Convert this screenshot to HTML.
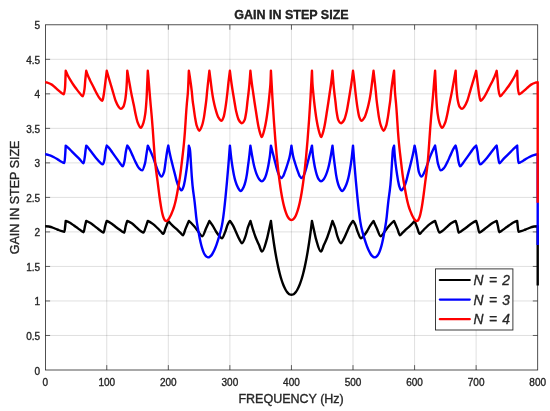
<!DOCTYPE html>
<html><head><meta charset="utf-8"><style>
html,body{margin:0;padding:0;background:#fff;width:550px;height:411px;overflow:hidden}
svg{display:block}
text{font-family:"Liberation Sans",Arial,Helvetica,sans-serif;fill:#262626;stroke:#262626;stroke-width:0.35px}
</style></head><body>
<svg width="550" height="411" viewBox="0 0 550 411">
<rect width="550" height="411" fill="#fff"/>
<path d="M106.76,24.8V370.0M168.33,24.8V370.0M229.89,24.8V370.0M291.45,24.8V370.0M353.01,24.8V370.0M414.58,24.8V370.0M476.14,24.8V370.0" stroke="#262626" stroke-opacity="0.14" stroke-width="1" fill="none"/>
<path d="M45.2,335.48H537.7M45.2,300.96H537.7M45.2,266.44H537.7M45.2,231.92H537.7M45.2,197.40H537.7M45.2,162.88H537.7M45.2,128.36H537.7M45.2,93.84H537.7M45.2,59.32H537.7" stroke="#262626" stroke-opacity="0.14" stroke-width="1" fill="none"/>
<path d="M106.76,370.0v-4.9M106.76,24.8v4.9M168.33,370.0v-4.9M168.33,24.8v4.9M229.89,370.0v-4.9M229.89,24.8v4.9M291.45,370.0v-4.9M291.45,24.8v4.9M353.01,370.0v-4.9M353.01,24.8v4.9M414.58,370.0v-4.9M414.58,24.8v4.9M476.14,370.0v-4.9M476.14,24.8v4.9M45.2,335.48h4.9M537.7,335.48h-4.9M45.2,300.96h4.9M537.7,300.96h-4.9M45.2,266.44h4.9M537.7,266.44h-4.9M45.2,231.92h4.9M537.7,231.92h-4.9M45.2,197.40h4.9M537.7,197.40h-4.9M45.2,162.88h4.9M537.7,162.88h-4.9M45.2,128.36h4.9M537.7,128.36h-4.9M45.2,93.84h4.9M537.7,93.84h-4.9M45.2,59.32h4.9M537.7,59.32h-4.9" stroke="#262626" stroke-width="0.7" fill="none"/>
<rect x="45.5" y="24.8" width="492.2" height="345.2" fill="none" stroke="#262626" stroke-width="0.8"/>
<g font-size="10.0" text-anchor="middle"><text x="45.20" y="386.0">0</text><text x="106.76" y="386.0">100</text><text x="168.33" y="386.0">200</text><text x="229.89" y="386.0">300</text><text x="291.45" y="386.0">400</text><text x="353.01" y="386.0">500</text><text x="414.58" y="386.0">600</text><text x="476.14" y="386.0">700</text><text x="537.70" y="386.0">800</text></g>
<g font-size="10.0" text-anchor="end"><text x="40.1" y="374.50">0</text><text x="40.1" y="339.98">0.5</text><text x="40.1" y="305.46">1</text><text x="40.1" y="270.94">1.5</text><text x="40.1" y="236.42">2</text><text x="40.1" y="201.90">2.5</text><text x="40.1" y="167.38">3</text><text x="40.1" y="132.86">3.5</text><text x="40.1" y="98.34">4</text><text x="40.1" y="63.82">4.5</text><text x="40.1" y="29.30">5</text></g>
<text x="291.45" y="18.7" font-size="12.5" font-weight="bold" text-anchor="middle" fill="#000" style="stroke:#000;stroke-width:0.3px">GAIN IN STEP SIZE</text>
<text x="291.1" y="402.7" font-size="12.5" text-anchor="middle">FREQUENCY (Hz)</text>
<text transform="translate(19,197.4) rotate(-90)" font-size="12.5" text-anchor="middle">GAIN IN STEP SIZE</text>
<g fill="none" stroke-width="2.4" stroke-linejoin="round" stroke-linecap="butt">
<path d="M45.2,226.2C46.43,226.2 47.67,226.34 48.9,226.5C49.7,226.6 50.5,226.86 51.3,227.1C52.1,227.34 52.9,227.69 53.7,228C54.53,228.32 55.37,228.66 56.2,229C57,229.33 57.8,229.7 58.6,230C59.4,230.3 60.2,230.56 61,230.8C62.13,231.14 63.27,231.7 64.4,231.7C64.67,231.7 64.93,228.22 65.2,226C65.37,224.55 65.55,222.78 65.72,220.9C67.15,221.34 68.57,222.02 70,222.8C71.33,223.53 72.67,224.67 74,225.6C75.33,226.53 76.67,227.43 78,228.4C79.07,229.17 80.13,230.1 81.2,230.8C82,231.32 82.8,232.2 83.6,232.2C84.07,232.2 84.53,227.99 85,226C85.41,224.24 85.83,222.54 86.24,220.9C87.49,221.42 88.75,222.07 90,222.8C91.33,223.58 92.67,224.6 94,225.6C95.33,226.6 96.67,227.77 98,228.8C99.07,229.62 100.13,230.5 101.2,231.2C102,231.72 102.8,232.6 103.6,232.6C104.13,232.6 104.67,227.94 105.2,226C105.72,224.1 106.24,222.38 106.76,220.9C108.18,221.57 109.59,222.39 111,223.3C112.33,224.16 113.67,225.3 115,226.3C116.33,227.3 117.67,228.34 119,229.3C120,230.02 121,230.79 122,231.4C122.73,231.85 123.47,232.6 124.2,232.6C124.7,232.6 125.2,227.86 125.7,226C126.23,224.03 126.76,222.28 127.28,220.9C128.79,221.45 130.29,222.31 131.8,223.3C133.37,224.33 134.93,226.05 136.5,227.4C137.87,228.58 139.23,229.96 140.6,230.9C141.57,231.56 142.53,232.6 143.5,232.6C144.27,232.6 145.03,228.89 145.8,226.8C146.47,224.98 147.14,223 147.8,220.9C149.47,221.65 151.13,222.7 152.8,223.9C154.33,225 155.87,226.55 157.4,228C158.57,229.1 159.73,230.36 160.9,231.5C161.7,232.28 162.5,233.8 163.3,233.8C164.07,233.8 164.83,229.96 165.6,228C166.51,225.67 167.42,223.31 168.33,220.9C169.75,222.61 171.18,224.2 172.6,225.6C174.13,227.11 175.67,228.25 177.2,229.7C178.37,230.8 179.53,232.12 180.7,233.2C181.47,233.91 182.23,235.2 183,235.2C183.8,235.2 184.6,231.07 185.4,229.1C186.55,226.27 187.7,223.52 188.85,220.9C190.7,222.41 192.55,224.35 194.4,226.5C195.77,228.08 197.13,230.35 198.5,232C199.77,233.53 201.03,236.2 202.3,236.2C203.57,236.2 204.83,230.95 206.1,228.2C207.19,225.84 208.28,223.4 209.37,220.9C210.48,222.26 211.59,223.85 212.7,225.6C213.8,227.33 214.9,229.8 216,231.5C217.13,233.25 218.27,234.87 219.4,236.1C220.23,237 221.07,238.4 221.9,238.4C223,238.4 224.1,234.54 225.2,231.9C226.03,229.9 226.87,226.13 227.7,224.4C228.43,222.89 229.16,221.59 229.89,220.9C230.86,222.03 231.83,223.51 232.8,225.2C233.9,227.12 235,229.93 236.1,232.3C237.2,234.67 238.3,237.5 239.4,239.4C240.27,240.9 241.13,243.2 242,243.2C243.1,243.2 244.2,239.71 245.3,236.9C246.13,234.77 246.97,230.25 247.8,227.7C248.67,225.04 249.54,222.69 250.41,220.9C252.14,227.22 253.87,232.65 255.6,237.2C256.7,240.09 257.8,242.33 258.9,244.8C259.93,247.12 260.97,251.6 262,251.6C263.7,251.6 265.4,244.12 267.1,238.3C267.83,235.79 268.57,231.74 269.3,228.4C269.84,225.93 270.39,223.42 270.93,220.9C271.42,224.8 271.91,228.93 272.39,232.61C272.88,236.29 273.37,239.75 273.86,243.01C274.35,246.27 274.84,249.34 275.33,252.21C275.82,255.09 276.3,257.78 276.79,260.31C277.28,262.83 277.77,265.18 278.26,267.37C278.75,269.57 279.24,271.6 279.72,273.49C280.21,275.38 280.7,277.13 281.19,278.73C281.68,280.34 282.17,281.81 282.66,283.15C283.14,284.5 283.63,285.71 284.12,286.8C284.61,287.9 285.1,288.87 285.59,289.73C286.08,290.59 286.56,291.33 287.05,291.97C287.54,292.6 288.03,293.13 288.52,293.55C289.01,293.97 289.5,294.28 289.98,294.49C290.47,294.7 290.96,294.8 291.45,294.8C291.94,294.8 292.43,294.7 292.92,294.49C293.4,294.28 293.89,293.97 294.38,293.55C294.87,293.13 295.36,292.6 295.85,291.97C296.34,291.33 296.82,290.59 297.31,289.73C297.8,288.87 298.29,287.9 298.78,286.8C299.27,285.71 299.76,284.5 300.24,283.15C300.73,281.81 301.22,280.34 301.71,278.73C302.2,277.13 302.69,275.38 303.18,273.49C303.66,271.6 304.15,269.57 304.64,267.37C305.13,265.18 305.62,262.83 306.11,260.31C306.6,257.78 307.08,255.09 307.57,252.21C308.06,249.34 308.55,246.27 309.04,243.01C309.53,239.75 310.02,236.29 310.51,232.61C310.99,228.93 311.48,224.8 311.97,220.9C312.51,223.42 313.06,225.93 313.6,228.4C314.33,231.74 315.07,235.79 315.8,238.3C317.5,244.12 319.2,251.6 320.9,251.6C321.93,251.6 322.97,247.12 324,244.8C325.1,242.33 326.2,240.09 327.3,237.2C329.03,232.65 330.76,227.22 332.49,220.9C333.36,222.69 334.23,225.04 335.1,227.7C335.93,230.25 336.77,234.77 337.6,236.9C338.7,239.71 339.8,243.2 340.9,243.2C341.77,243.2 342.63,240.9 343.5,239.4C344.6,237.5 345.7,234.67 346.8,232.3C347.9,229.93 349,227.12 350.1,225.2C351.07,223.51 352.04,222.03 353.01,220.9C353.74,221.59 354.47,222.89 355.2,224.4C356.03,226.13 356.87,229.9 357.7,231.9C358.8,234.54 359.9,238.4 361,238.4C361.83,238.4 362.67,237 363.5,236.1C364.63,234.87 365.77,233.25 366.9,231.5C368,229.8 369.1,227.33 370.2,225.6C371.31,223.85 372.42,222.26 373.53,220.9C374.62,223.4 375.71,225.84 376.8,228.2C378.07,230.95 379.33,236.2 380.6,236.2C381.87,236.2 383.13,233.53 384.4,232C385.77,230.35 387.13,228.08 388.5,226.5C390.35,224.35 392.2,222.41 394.05,220.9C395.2,223.52 396.35,226.27 397.5,229.1C398.3,231.07 399.1,235.2 399.9,235.2C400.67,235.2 401.43,233.91 402.2,233.2C403.37,232.12 404.53,230.8 405.7,229.7C407.23,228.25 408.77,227.11 410.3,225.6C411.73,224.2 413.15,222.61 414.58,220.9C415.48,223.31 416.39,225.67 417.3,228C418.07,229.96 418.83,233.8 419.6,233.8C420.4,233.8 421.2,232.28 422,231.5C423.17,230.36 424.33,229.1 425.5,228C427.03,226.55 428.57,225 430.1,223.9C431.77,222.7 433.43,221.65 435.1,220.9C435.76,223 436.43,224.98 437.1,226.8C437.87,228.89 438.63,232.6 439.4,232.6C440.37,232.6 441.33,231.56 442.3,230.9C443.67,229.96 445.03,228.58 446.4,227.4C447.97,226.05 449.53,224.33 451.1,223.3C452.61,222.31 454.11,221.45 455.62,220.9C456.14,222.28 456.67,224.03 457.2,226C457.7,227.86 458.2,232.6 458.7,232.6C459.43,232.6 460.17,231.85 460.9,231.4C461.9,230.79 462.9,230.02 463.9,229.3C465.23,228.34 466.57,227.3 467.9,226.3C469.23,225.3 470.57,224.16 471.9,223.3C473.31,222.39 474.73,221.57 476.14,220.9C476.66,222.38 477.18,224.1 477.7,226C478.23,227.94 478.77,232.6 479.3,232.6C480.1,232.6 480.9,231.72 481.7,231.2C482.77,230.5 483.83,229.62 484.9,228.8C486.23,227.77 487.57,226.6 488.9,225.6C490.23,224.6 491.57,223.58 492.9,222.8C494.15,222.07 495.41,221.42 496.66,220.9C497.07,222.54 497.49,224.24 497.9,226C498.37,227.99 498.83,232.2 499.3,232.2C500.1,232.2 500.9,231.32 501.7,230.8C502.77,230.1 503.83,229.17 504.9,228.4C506.23,227.43 507.57,226.53 508.9,225.6C510.23,224.67 511.57,223.53 512.9,222.8C514.33,222.02 515.75,221.34 517.18,220.9C517.35,222.78 517.53,224.55 517.7,226C517.97,228.22 518.23,231.7 518.5,231.7C519.63,231.7 520.77,231.14 521.9,230.8C522.7,230.56 523.5,230.3 524.3,230C525.1,229.7 525.9,229.33 526.7,229C527.53,228.66 528.37,228.32 529.2,228C530,227.69 530.8,227.34 531.6,227.1C532.4,226.86 533.2,226.6 534,226.5C535.23,226.34 536.47,226.2 537.7,226.2L537.7,285.6" stroke="#000"/>
<path d="M45.2,154.2C46.8,154.2 48.4,154.88 50,155.4C51.33,155.83 52.67,156.51 54,157.2C55.33,157.89 56.67,158.8 58,159.6C59.33,160.4 60.67,161.35 62,162C62.8,162.39 63.6,163 64.4,163C64.63,163 64.87,158.94 65.1,156C65.31,153.4 65.51,149.72 65.72,145.6C66.48,146.23 67.24,146.89 68,147.6C69.33,148.84 70.67,150.27 72,151.6C73.33,152.93 74.67,154.27 76,155.6C77.33,156.93 78.67,158.23 80,159.6C81.2,160.83 82.4,163.4 83.6,163.4C84.03,163.4 84.47,159.03 84.9,156C85.13,154.37 85.37,151.77 85.6,150C85.81,148.37 86.03,146.89 86.24,145.6C86.83,146.24 87.41,146.89 88,147.6C89.33,149.2 90.67,151.07 92,152.8C93.33,154.53 94.67,156.41 96,158C97.33,159.59 98.67,161.26 100,162.4C100.93,163.2 101.87,164.4 102.8,164.4C103.33,164.4 103.87,162.27 104.4,160C104.73,158.58 105.07,154 105.4,152C105.85,149.28 106.31,146.87 106.76,145.6C107.44,146.16 108.12,146.83 108.8,147.6C109.87,148.81 110.93,150.52 112,152C113.33,153.85 114.67,155.73 116,157.6C117.33,159.47 118.67,161.53 120,163.2C120.93,164.37 121.87,166.4 122.8,166.4C123.37,166.4 123.93,163.51 124.5,161C124.93,159.08 125.37,154.32 125.8,152C126.29,149.36 126.79,147.05 127.28,145.6C128.16,146.7 129.03,148.11 129.9,149.7C130.87,151.47 131.83,153.98 132.8,156.1C133.77,158.22 134.73,160.5 135.7,162.4C136.7,164.37 137.7,166.72 138.7,167.8C139.83,169.03 140.97,170.4 142.1,170.4C143.07,170.4 144.03,166.96 145,163.4C145.47,161.68 145.93,157.56 146.4,154.6C146.87,151.63 147.34,148.63 147.8,145.6C148.64,147.17 149.47,148.88 150.3,150.7C151.13,152.53 151.97,154.45 152.8,156.6C153.6,158.66 154.4,161.19 155.2,163.4C156.17,166.07 157.13,169.28 158.1,171.2C159.23,173.45 160.37,176.5 161.5,176.5C162.33,176.5 163.17,174.48 164,172.1C164.63,170.29 165.27,163.67 165.9,159.5C166.4,156.21 166.9,152.3 167.4,149.7C167.71,148.1 168.02,146.72 168.33,145.6C168.82,148.54 169.31,151.25 169.8,153.6C170.33,156.15 170.87,158.2 171.4,160.4C171.97,162.74 172.53,164.98 173.1,167.2C173.7,169.55 174.3,171.75 174.9,174.1C175.47,176.32 176.03,179.01 176.6,180.9C177.23,183.01 177.87,185.12 178.5,186.3C179.53,188.22 180.57,190.4 181.6,190.4C182.27,190.4 182.93,188.24 183.6,186.3C184,185.14 184.4,182.99 184.8,180.9C185.17,178.99 185.53,176.49 185.9,174.1C186.23,171.92 186.57,169.75 186.9,167.2C187.17,165.16 187.43,163.01 187.7,160.4C187.9,158.44 188.1,156.16 188.3,153.6C188.48,151.27 188.66,148.55 188.85,145.6C189.33,148.13 189.82,145.94 190.31,153.2C190.8,160.45 191.29,169.48 191.78,176.35C192.27,183.23 192.75,187.94 193.24,191.5C193.73,195.05 194.22,198.2 194.71,202.57C195.2,206.94 195.69,212.3 196.17,216.7C196.66,221.1 197.15,224.37 197.64,227.07C198.13,229.77 198.62,232.28 199.11,234.94C199.59,237.6 200.08,240.14 200.57,242.3C201.06,244.47 201.55,246.34 202.04,247.96C202.53,249.58 203.01,250.95 203.5,252.1C203.99,253.25 204.48,254.19 204.97,254.93C205.46,255.68 205.95,256.24 206.44,256.63C206.92,257.02 207.41,257.24 207.9,257.31C208.39,257.38 208.88,257.29 209.37,257.06C209.86,256.83 210.34,256.45 210.83,255.93C211.32,255.42 211.81,254.77 212.3,254C212.79,253.22 213.28,252.32 213.76,251.31C214.25,250.3 214.74,249.18 215.23,247.96C215.72,246.74 216.21,245.42 216.7,244.03C217.18,242.63 217.67,241.15 218.16,239.61C218.65,238.07 219.14,236.48 219.63,234.8C220.12,233.11 220.6,231.34 221.09,229.27C221.58,227.2 222.07,224.83 222.56,221.86C223.05,218.9 223.54,215.32 224.02,211.18C224.51,207.04 225,202.38 225.49,197.44C225.98,192.51 226.47,187.3 226.96,181.88C227.44,176.46 227.93,170.83 228.42,164.86C228.91,158.89 229.4,152.02 229.89,145.6C230.23,148.98 230.56,152.14 230.9,155.1C231.17,157.44 231.43,159.74 231.7,161.7C232.03,164.15 232.37,166.29 232.7,168.3C233.1,170.71 233.5,173.02 233.9,174.9C234.43,177.41 234.97,179.68 235.5,181.4C236.17,183.56 236.83,185.48 237.5,186.7C238.57,188.65 239.63,191 240.7,191C241.73,191 242.77,188.76 243.8,186.7C244.37,185.57 244.93,183.6 245.5,181.4C245.93,179.72 246.37,177.51 246.8,174.9C247.1,173.1 247.4,170.5 247.7,168.3C248,166.1 248.3,164.03 248.6,161.7C248.87,159.63 249.13,157.44 249.4,155.1C249.74,152.15 250.07,148.99 250.41,145.6C250.94,148.91 251.47,152.07 252,155.1C252.4,157.39 252.8,159.74 253.2,161.7C253.7,164.15 254.2,166.49 254.7,168.3C255.43,170.95 256.17,173.17 256.9,174.9C257.57,176.47 258.23,177.98 258.9,178.8C259.9,180.03 260.9,181.4 261.9,181.4C262.77,181.4 263.63,180.07 264.5,178.8C265.03,178.02 265.57,176.49 266.1,174.9C266.67,173.21 267.23,170.91 267.8,168.3C268.2,166.46 268.6,164.11 269,161.7C269.33,159.69 269.67,157.78 270,155.1C270.31,152.61 270.62,149.31 270.93,145.6C271.49,147.78 272.04,149.99 272.6,152.2C273.03,153.92 273.47,155.68 273.9,157.4C274.33,159.12 274.77,160.8 275.2,162.5C275.63,164.2 276.07,166.02 276.5,167.6C277,169.42 277.5,171.3 278,172.7C278.43,173.91 278.87,175.13 279.3,175.8C279.97,176.83 280.63,178 281.3,178C282,178 282.7,176.89 283.4,175.8C283.8,175.18 284.2,173.78 284.6,172.7C285.2,171.08 285.8,169.4 286.4,167.6C286.93,166 287.47,164.26 288,162.5C288.5,160.85 289,159.48 289.5,157.4C289.83,156.01 290.17,154.19 290.5,152.2C290.82,150.31 291.13,148.07 291.45,145.6C291.77,148.07 292.08,150.31 292.4,152.2C292.73,154.19 293.07,156.01 293.4,157.4C293.9,159.48 294.4,160.85 294.9,162.5C295.43,164.26 295.97,166 296.5,167.6C297.1,169.4 297.7,171.08 298.3,172.7C298.7,173.78 299.1,175.18 299.5,175.8C300.2,176.89 300.9,178 301.6,178C302.27,178 302.93,176.83 303.6,175.8C304.03,175.13 304.47,173.91 304.9,172.7C305.4,171.3 305.9,169.42 306.4,167.6C306.83,166.02 307.27,164.2 307.7,162.5C308.13,160.8 308.57,159.12 309,157.4C309.43,155.68 309.87,153.92 310.3,152.2C310.86,149.99 311.41,147.78 311.97,145.6C312.28,149.31 312.59,152.61 312.9,155.1C313.23,157.78 313.57,159.69 313.9,161.7C314.3,164.11 314.7,166.46 315.1,168.3C315.67,170.91 316.23,173.21 316.8,174.9C317.33,176.49 317.87,178.02 318.4,178.8C319.27,180.07 320.13,181.4 321,181.4C322,181.4 323,180.03 324,178.8C324.67,177.98 325.33,176.47 326,174.9C326.73,173.17 327.47,170.95 328.2,168.3C328.7,166.49 329.2,164.15 329.7,161.7C330.1,159.74 330.5,157.39 330.9,155.1C331.43,152.07 331.96,148.91 332.49,145.6C332.83,148.99 333.16,152.15 333.5,155.1C333.77,157.44 334.03,159.63 334.3,161.7C334.6,164.03 334.9,166.1 335.2,168.3C335.5,170.5 335.8,173.1 336.1,174.9C336.53,177.51 336.97,179.72 337.4,181.4C337.97,183.6 338.53,185.57 339.1,186.7C340.13,188.76 341.17,191 342.2,191C343.27,191 344.33,188.65 345.4,186.7C346.07,185.48 346.73,183.56 347.4,181.4C347.93,179.68 348.47,177.41 349,174.9C349.4,173.02 349.8,170.71 350.2,168.3C350.53,166.29 350.87,164.15 351.2,161.7C351.47,159.74 351.73,157.44 352,155.1C352.34,152.14 352.68,148.98 353.01,145.6C353.5,152.02 353.99,158.89 354.48,164.86C354.97,170.83 355.46,176.46 355.94,181.88C356.43,187.3 356.92,192.51 357.41,197.44C357.9,202.38 358.39,207.04 358.88,211.18C359.36,215.32 359.85,218.9 360.34,221.86C360.83,224.83 361.32,227.2 361.81,229.27C362.3,231.34 362.78,233.11 363.27,234.8C363.76,236.48 364.25,238.07 364.74,239.61C365.23,241.15 365.72,242.63 366.2,244.03C366.69,245.42 367.18,246.74 367.67,247.96C368.16,249.18 368.65,250.3 369.14,251.31C369.62,252.32 370.11,253.22 370.6,254C371.09,254.77 371.58,255.42 372.07,255.93C372.56,256.45 373.04,256.83 373.53,257.06C374.02,257.29 374.51,257.38 375,257.31C375.49,257.24 375.98,257.02 376.46,256.63C376.95,256.24 377.44,255.68 377.93,254.93C378.42,254.19 378.91,253.25 379.4,252.1C379.89,250.95 380.37,249.58 380.86,247.96C381.35,246.34 381.84,244.47 382.33,242.3C382.82,240.14 383.31,237.6 383.79,234.94C384.28,232.28 384.77,229.77 385.26,227.07C385.75,224.37 386.24,221.1 386.73,216.7C387.21,212.3 387.7,206.94 388.19,202.57C388.68,198.2 389.17,195.05 389.66,191.5C390.15,187.94 390.63,183.23 391.12,176.35C391.61,169.48 392.1,160.45 392.59,153.2C393.08,145.94 393.57,148.13 394.05,145.6C394.24,148.55 394.42,151.27 394.6,153.6C394.8,156.16 395,158.44 395.2,160.4C395.47,163.01 395.73,165.16 396,167.2C396.33,169.75 396.67,171.92 397,174.1C397.37,176.49 397.73,178.99 398.1,180.9C398.5,182.99 398.9,185.14 399.3,186.3C399.97,188.24 400.63,190.4 401.3,190.4C402.33,190.4 403.37,188.22 404.4,186.3C405.03,185.12 405.67,183.01 406.3,180.9C406.87,179.01 407.43,176.32 408,174.1C408.6,171.75 409.2,169.55 409.8,167.2C410.37,164.98 410.93,162.74 411.5,160.4C412.03,158.2 412.57,156.15 413.1,153.6C413.59,151.25 414.08,148.54 414.58,145.6C414.88,146.72 415.19,148.1 415.5,149.7C416,152.3 416.5,156.21 417,159.5C417.63,163.67 418.27,170.29 418.9,172.1C419.73,174.48 420.57,176.5 421.4,176.5C422.53,176.5 423.67,173.45 424.8,171.2C425.77,169.28 426.73,166.07 427.7,163.4C428.5,161.19 429.3,158.66 430.1,156.6C430.93,154.45 431.77,152.53 432.6,150.7C433.43,148.88 434.26,147.17 435.1,145.6C435.56,148.63 436.03,151.63 436.5,154.6C436.97,157.56 437.43,161.68 437.9,163.4C438.87,166.96 439.83,170.4 440.8,170.4C441.93,170.4 443.07,169.03 444.2,167.8C445.2,166.72 446.2,164.37 447.2,162.4C448.17,160.5 449.13,158.22 450.1,156.1C451.07,153.98 452.03,151.47 453,149.7C453.87,148.11 454.74,146.7 455.62,145.6C456.11,147.05 456.61,149.36 457.1,152C457.53,154.32 457.97,159.08 458.4,161C458.97,163.51 459.53,166.4 460.1,166.4C461.03,166.4 461.97,164.37 462.9,163.2C464.23,161.53 465.57,159.47 466.9,157.6C468.23,155.73 469.57,153.85 470.9,152C471.97,150.52 473.03,148.81 474.1,147.6C474.78,146.83 475.46,146.16 476.14,145.6C476.59,146.87 477.05,149.28 477.5,152C477.83,154 478.17,158.58 478.5,160C479.03,162.27 479.57,164.4 480.1,164.4C481.03,164.4 481.97,163.2 482.9,162.4C484.23,161.26 485.57,159.59 486.9,158C488.23,156.41 489.57,154.53 490.9,152.8C492.23,151.07 493.57,149.2 494.9,147.6C495.49,146.89 496.07,146.24 496.66,145.6C496.87,146.89 497.09,148.37 497.3,150C497.53,151.77 497.77,154.37 498,156C498.43,159.03 498.87,163.4 499.3,163.4C500.5,163.4 501.7,160.83 502.9,159.6C504.23,158.23 505.57,156.93 506.9,155.6C508.23,154.27 509.57,152.93 510.9,151.6C512.23,150.27 513.57,148.84 514.9,147.6C515.66,146.89 516.42,146.23 517.18,145.6C517.39,149.72 517.59,153.4 517.8,156C518.03,158.94 518.27,163 518.5,163C519.3,163 520.1,162.39 520.9,162C522.23,161.35 523.57,160.4 524.9,159.6C526.23,158.8 527.57,157.89 528.9,157.2C530.23,156.51 531.57,155.83 532.9,155.4C534.5,154.88 536.1,154.2 537.7,154.2L537.7,244.9" stroke="#00f"/>
<path d="M45.2,82.3C46.1,82.3 47,82.57 47.9,82.8C49.2,83.13 50.5,83.82 51.8,84.6C53.1,85.38 54.4,86.77 55.7,87.9C57,89.03 58.3,90.29 59.6,91.4C60.37,92.06 61.13,92.83 61.9,93.3C62.57,93.71 63.23,94.3 63.9,94.3C64.27,94.3 64.63,91.54 65,88C65.24,85.68 65.48,78.26 65.72,70.8C66.38,72.39 67.04,73.88 67.7,75.2C68.57,76.94 69.43,78.43 70.3,79.9C71.27,81.54 72.23,83.06 73.2,84.5C74.3,86.13 75.4,87.65 76.5,89.1C77.73,90.72 78.97,92.37 80.2,93.7C81.1,94.67 82,96.3 82.9,96.3C83.43,96.3 83.97,92.73 84.5,89.1C84.77,87.29 85.03,82.71 85.3,79.9C85.61,76.6 85.93,73.52 86.24,70.8C86.76,72.4 87.28,73.9 87.8,75.2C88.5,76.96 89.2,78.42 89.9,79.9C90.67,81.52 91.43,82.97 92.2,84.5C92.97,86.03 93.73,87.57 94.5,89.1C95.27,90.63 96.03,92.31 96.8,93.7C97.73,95.39 98.67,97.25 99.6,98.3C100.53,99.35 101.47,100.7 102.4,100.7C102.9,100.7 103.4,96.63 103.9,93.7C104.3,91.36 104.7,87.67 105.1,84.5C105.65,80.11 106.21,75.55 106.76,70.8C107.41,73.16 108.05,75.47 108.7,77.7C109.87,81.72 111.03,85.42 112.2,89.3C113.37,93.18 114.53,98.1 115.7,101C116.67,103.4 117.63,105.61 118.6,106.8C119.37,107.75 120.13,108.9 120.9,108.9C121.7,108.9 122.5,107.95 123.3,106.8C123.87,105.98 124.43,103.78 125,101C125.47,98.71 125.93,94.9 126.4,89.3C126.6,86.9 126.8,82.94 127,78.5C127.09,76.4 127.19,73.64 127.28,70.8C127.96,74.52 128.63,78.29 129.3,82.1C129.77,84.74 130.23,87.61 130.7,90.1C131.23,92.95 131.77,95.51 132.3,98.1C132.87,100.85 133.43,103.33 134,106.1C134.53,108.7 135.07,111.81 135.6,114.2C136.27,117.19 136.93,120.56 137.6,122.2C138.7,124.91 139.8,127.8 140.9,127.8C141.8,127.8 142.7,124.94 143.6,122.2C144.13,120.58 144.67,117.95 145.2,114.2C145.67,110.92 146.13,105.51 146.6,98.1C146.83,94.39 147.07,87.38 147.3,82.1C147.47,78.3 147.64,74.54 147.8,70.8C148.13,74.47 148.46,77.69 148.78,81.82C149.11,85.96 149.43,90.25 149.76,94.27C150.08,98.29 150.41,102.04 150.74,105.58C151.06,109.12 151.39,112.48 151.71,116.14C152.04,119.81 152.36,123.83 152.69,128.28C153.02,132.73 153.34,137.62 153.67,142.47C153.99,147.33 154.32,152.06 154.64,156.16C154.97,160.26 155.3,163.74 155.62,166.65C155.95,169.57 156.27,171.95 156.6,174.29C156.92,176.64 157.25,178.95 157.58,181.41C157.9,183.88 158.23,186.51 158.55,189.15C158.88,191.79 159.2,194.38 159.53,196.78C159.86,199.17 160.18,201.4 160.51,203.51C160.83,205.62 161.16,207.58 161.48,209.34C161.81,211.1 162.14,212.65 162.46,213.99C162.79,215.33 163.11,216.45 163.44,217.38C163.76,218.31 164.09,219.04 164.42,219.59C164.74,220.15 165.07,220.53 165.39,220.77C165.72,221 166.04,221.08 166.37,221.04C166.7,221 167.02,220.83 167.35,220.57C167.67,220.3 168,219.95 168.33,219.52C168.65,219.09 168.98,218.6 169.3,218.05C169.63,217.5 169.95,216.91 170.28,216.27C170.61,215.63 170.93,214.94 171.26,214.22C171.58,213.5 171.91,212.73 172.23,211.92C172.56,211.11 172.89,210.24 173.21,209.32C173.54,208.39 173.86,207.39 174.19,206.31C174.51,205.23 174.84,204.05 175.17,202.75C175.49,201.46 175.82,200.03 176.14,198.48C176.47,196.93 176.79,195.25 177.12,193.5C177.45,191.74 177.77,189.9 178.1,188.06C178.42,186.23 178.75,184.42 179.07,182.55C179.4,180.68 179.73,178.73 180.05,176.43C180.38,174.13 180.7,171.51 181.03,168.82C181.35,166.13 181.68,163.38 182.01,160.63C182.33,157.88 182.66,155.14 182.98,152.29C183.31,149.43 183.63,146.46 183.96,143.08C184.29,139.71 184.61,135.91 184.94,131.39C185.26,126.87 185.59,121.45 185.91,116.36C186.24,111.28 186.57,106.84 186.89,103.25C187.22,99.66 187.54,96.92 187.87,92.73C188.19,88.55 188.52,78.11 188.85,70.8C189.46,74.39 190.08,78.55 190.7,83C191.07,85.64 191.43,88.27 191.8,91.6C192.07,94.02 192.33,97.8 192.6,100.1C193,103.55 193.4,105.77 193.8,108.6C194.2,111.43 194.6,114.73 195,117.1C195.57,120.46 196.13,123.95 196.7,125.6C197.57,128.12 198.43,130.7 199.3,130.7C200.2,130.7 201.1,128 202,125.6C202.67,123.82 203.33,120.72 204,117.1C204.4,114.93 204.8,111.56 205.2,108.6C205.57,105.89 205.93,103.41 206.3,100.1C206.57,97.69 206.83,94.29 207.1,91.6C207.4,88.58 207.7,85.78 208,83C208.46,78.79 208.91,74.69 209.37,70.8C209.88,74.91 210.39,78.97 210.9,83C211.27,85.89 211.63,89.08 212,91.6C212.47,94.81 212.93,97.74 213.4,100.1C214.07,103.47 214.73,106.22 215.4,108.6C216.33,111.94 217.27,115.49 218.2,117.1C219.27,118.94 220.33,120.9 221.4,120.9C222.13,120.9 222.87,119.02 223.6,117.1C224.17,115.61 224.73,111.96 225.3,108.6C225.7,106.23 226.1,103.2 226.5,100.1C226.83,97.52 227.17,94.6 227.5,91.6C227.8,88.9 228.1,85.66 228.4,83C228.9,78.6 229.39,74.45 229.89,70.8C230.46,75.6 231.03,80.01 231.6,84C232.07,87.26 232.53,90.1 233,93C233.5,96.1 234,99.1 234.5,102C235.03,105.1 235.57,108.72 236.1,111C237,114.85 237.9,118.56 238.8,120C239.83,121.65 240.87,123.2 241.9,123.2C242.8,123.2 243.7,121.8 244.6,120C245.2,118.8 245.8,114.97 246.4,111C246.73,108.8 247.07,104.86 247.4,102C247.77,98.85 248.13,96.31 248.5,93C248.8,90.29 249.1,87.39 249.4,84C249.74,80.2 250.07,75.75 250.41,70.8C250.91,75.71 251.4,80.15 251.9,84C252.33,87.36 252.77,90 253.2,93C253.63,96 254.07,99.11 254.5,102C254.97,105.11 255.43,108 255.9,111C256.37,114 256.83,117.28 257.3,120C257.87,123.3 258.43,126.83 259,129C259.93,132.58 260.87,137.1 261.8,137.1C262.7,137.1 263.6,132.43 264.5,129C265.1,126.71 265.7,123.51 266.3,120C266.73,117.46 267.17,114.26 267.6,111C267.97,108.24 268.33,105.31 268.7,102C269,99.29 269.3,96.18 269.6,93C269.87,90.17 270.13,88.24 270.4,84C270.58,81.19 270.75,76.16 270.93,70.8C271.42,79.65 271.91,89.14 272.39,97.36C272.88,105.58 273.37,113.18 273.86,120.24C274.35,127.3 274.84,133.82 275.33,139.85C275.82,145.88 276.3,151.42 276.79,156.53C277.28,161.65 277.77,166.33 278.26,170.63C278.75,174.94 279.24,178.86 279.72,182.44C280.21,186.03 280.7,189.28 281.19,192.23C281.68,195.19 282.17,197.85 282.66,200.24C283.14,202.64 283.63,204.77 284.12,206.67C284.61,208.57 285.1,210.24 285.59,211.69C286.08,213.15 286.56,214.4 287.05,215.45C287.54,216.51 288.03,217.38 288.52,218.06C289.01,218.75 289.5,219.26 289.98,219.59C290.47,219.93 290.96,220.1 291.45,220.1C291.94,220.1 292.43,219.93 292.92,219.59C293.4,219.26 293.89,218.75 294.38,218.06C294.87,217.38 295.36,216.51 295.85,215.45C296.34,214.4 296.82,213.15 297.31,211.69C297.8,210.24 298.29,208.57 298.78,206.67C299.27,204.77 299.76,202.64 300.24,200.24C300.73,197.85 301.22,195.19 301.71,192.23C302.2,189.28 302.69,186.03 303.18,182.44C303.66,178.86 304.15,174.94 304.64,170.63C305.13,166.33 305.62,161.65 306.11,156.53C306.6,151.42 307.08,145.88 307.57,139.85C308.06,133.82 308.55,127.3 309.04,120.24C309.53,113.18 310.02,105.58 310.51,97.36C310.99,89.14 311.48,79.65 311.97,70.8C312.15,76.16 312.32,81.19 312.5,84C312.77,88.24 313.03,90.17 313.3,93C313.6,96.18 313.9,99.29 314.2,102C314.57,105.31 314.93,108.24 315.3,111C315.73,114.26 316.17,117.46 316.6,120C317.2,123.51 317.8,126.71 318.4,129C319.3,132.43 320.2,137.1 321.1,137.1C322.03,137.1 322.97,132.58 323.9,129C324.47,126.83 325.03,123.3 325.6,120C326.07,117.28 326.53,114 327,111C327.47,108 327.93,105.11 328.4,102C328.83,99.11 329.27,96 329.7,93C330.13,90 330.57,87.36 331,84C331.5,80.15 331.99,75.71 332.49,70.8C332.83,75.75 333.16,80.2 333.5,84C333.8,87.39 334.1,90.29 334.4,93C334.77,96.31 335.13,98.85 335.5,102C335.83,104.86 336.17,108.8 336.5,111C337.1,114.97 337.7,118.8 338.3,120C339.2,121.8 340.1,123.2 341,123.2C342.03,123.2 343.07,121.65 344.1,120C345,118.56 345.9,114.85 346.8,111C347.33,108.72 347.87,105.1 348.4,102C348.9,99.1 349.4,96.1 349.9,93C350.37,90.1 350.83,87.26 351.3,84C351.87,80.01 352.44,75.6 353.01,70.8C353.51,74.45 354,78.6 354.5,83C354.8,85.66 355.1,88.9 355.4,91.6C355.73,94.6 356.07,97.52 356.4,100.1C356.8,103.2 357.2,106.23 357.6,108.6C358.17,111.96 358.73,115.61 359.3,117.1C360.03,119.02 360.77,120.9 361.5,120.9C362.57,120.9 363.63,118.94 364.7,117.1C365.63,115.49 366.57,111.94 367.5,108.6C368.17,106.22 368.83,103.47 369.5,100.1C369.97,97.74 370.43,94.81 370.9,91.6C371.27,89.08 371.63,85.89 372,83C372.51,78.97 373.02,74.91 373.53,70.8C373.99,74.69 374.44,78.79 374.9,83C375.2,85.78 375.5,88.58 375.8,91.6C376.07,94.29 376.33,97.69 376.6,100.1C376.97,103.41 377.33,105.89 377.7,108.6C378.1,111.56 378.5,114.93 378.9,117.1C379.57,120.72 380.23,123.82 380.9,125.6C381.8,128 382.7,130.7 383.6,130.7C384.47,130.7 385.33,128.12 386.2,125.6C386.77,123.95 387.33,120.46 387.9,117.1C388.3,114.73 388.7,111.43 389.1,108.6C389.5,105.77 389.9,103.55 390.3,100.1C390.57,97.8 390.83,94.02 391.1,91.6C391.47,88.27 391.83,85.64 392.2,83C392.82,78.55 393.44,74.39 394.05,70.8C394.38,78.11 394.71,88.55 395.03,92.73C395.36,96.92 395.68,99.66 396.01,103.25C396.33,106.84 396.66,111.28 396.99,116.36C397.31,121.45 397.64,126.87 397.96,131.39C398.29,135.91 398.61,139.71 398.94,143.08C399.27,146.46 399.59,149.43 399.92,152.29C400.24,155.14 400.57,157.88 400.89,160.63C401.22,163.38 401.55,166.13 401.87,168.82C402.2,171.51 402.52,174.13 402.85,176.43C403.17,178.73 403.5,180.68 403.83,182.55C404.15,184.42 404.48,186.23 404.8,188.06C405.13,189.9 405.45,191.74 405.78,193.5C406.11,195.25 406.43,196.93 406.76,198.48C407.08,200.03 407.41,201.46 407.73,202.75C408.06,204.05 408.39,205.23 408.71,206.31C409.04,207.39 409.36,208.39 409.69,209.32C410.01,210.24 410.34,211.11 410.67,211.92C410.99,212.73 411.32,213.5 411.64,214.22C411.97,214.94 412.29,215.63 412.62,216.27C412.95,216.91 413.27,217.5 413.6,218.05C413.92,218.6 414.25,219.09 414.58,219.52C414.9,219.95 415.23,220.3 415.55,220.57C415.88,220.83 416.2,221 416.53,221.04C416.86,221.08 417.18,221 417.51,220.77C417.83,220.53 418.16,220.15 418.48,219.59C418.81,219.04 419.14,218.31 419.46,217.38C419.79,216.45 420.11,215.33 420.44,213.99C420.76,212.65 421.09,211.1 421.42,209.34C421.74,207.58 422.07,205.62 422.39,203.51C422.72,201.4 423.04,199.17 423.37,196.78C423.7,194.38 424.02,191.79 424.35,189.15C424.67,186.51 425,183.88 425.32,181.41C425.65,178.95 425.98,176.64 426.3,174.29C426.63,171.95 426.95,169.57 427.28,166.65C427.6,163.74 427.93,160.26 428.26,156.16C428.58,152.06 428.91,147.33 429.23,142.47C429.56,137.62 429.88,132.73 430.21,128.28C430.54,123.83 430.86,119.81 431.19,116.14C431.51,112.48 431.84,109.12 432.16,105.58C432.49,102.04 432.82,98.29 433.14,94.27C433.47,90.25 433.79,85.96 434.12,81.82C434.44,77.69 434.77,74.47 435.1,70.8C435.26,74.54 435.43,78.3 435.6,82.1C435.83,87.38 436.07,94.39 436.3,98.1C436.77,105.51 437.23,110.92 437.7,114.2C438.23,117.95 438.77,120.58 439.3,122.2C440.2,124.94 441.1,127.8 442,127.8C443.1,127.8 444.2,124.91 445.3,122.2C445.97,120.56 446.63,117.19 447.3,114.2C447.83,111.81 448.37,108.7 448.9,106.1C449.47,103.33 450.03,100.85 450.6,98.1C451.13,95.51 451.67,92.95 452.2,90.1C452.67,87.61 453.13,84.74 453.6,82.1C454.27,78.29 454.94,74.52 455.62,70.8C455.71,73.64 455.81,76.4 455.9,78.5C456.1,82.94 456.3,86.9 456.5,89.3C456.97,94.9 457.43,98.71 457.9,101C458.47,103.78 459.03,105.98 459.6,106.8C460.4,107.95 461.2,108.9 462,108.9C462.77,108.9 463.53,107.75 464.3,106.8C465.27,105.61 466.23,103.4 467.2,101C468.37,98.1 469.53,93.18 470.7,89.3C471.87,85.42 473.03,81.72 474.2,77.7C474.85,75.47 475.49,73.16 476.14,70.8C476.69,75.55 477.25,80.11 477.8,84.5C478.2,87.67 478.6,91.36 479,93.7C479.5,96.63 480,100.7 480.5,100.7C481.43,100.7 482.37,99.35 483.3,98.3C484.23,97.25 485.17,95.39 486.1,93.7C486.87,92.31 487.63,90.63 488.4,89.1C489.17,87.57 489.93,86.03 490.7,84.5C491.47,82.97 492.23,81.52 493,79.9C493.7,78.42 494.4,76.96 495.1,75.2C495.62,73.9 496.14,72.4 496.66,70.8C496.97,73.52 497.29,76.6 497.6,79.9C497.87,82.71 498.13,87.29 498.4,89.1C498.93,92.73 499.47,96.3 500,96.3C500.9,96.3 501.8,94.67 502.7,93.7C503.93,92.37 505.17,90.72 506.4,89.1C507.5,87.65 508.6,86.13 509.7,84.5C510.67,83.06 511.63,81.54 512.6,79.9C513.47,78.43 514.33,76.94 515.2,75.2C515.86,73.88 516.52,72.39 517.18,70.8C517.42,78.26 517.66,85.68 517.9,88C518.27,91.54 518.63,94.3 519,94.3C519.67,94.3 520.33,93.71 521,93.3C521.77,92.83 522.53,92.06 523.3,91.4C524.6,90.29 525.9,89.03 527.2,87.9C528.5,86.77 529.8,85.38 531.1,84.6C532.4,83.82 533.7,83.13 535,82.8C535.9,82.57 536.8,82.3 537.7,82.3L537.7,202.8" stroke="#f00"/>
</g>
<rect x="435.5" y="268.9" width="77.4" height="61.1" fill="#fff" stroke="#262626" stroke-width="0.9"/>
<g stroke-width="2.2" fill="none" stroke-linecap="round">
<path d="M439.8,280H469.8" stroke="#000"/>
<path d="M439.8,299.6H469.8" stroke="#00f"/>
<path d="M439.8,319.2H469.8" stroke="#f00"/>
</g>
<g font-size="13.8" font-style="italic" style="fill:#000;stroke:#000;stroke-width:0.55px;word-spacing:1.5px">
<text x="473.6" y="285.0">N = 2</text>
<text x="473.6" y="304.6">N = 3</text>
<text x="473.6" y="324.2">N = 4</text>
</g>
</svg>
</body></html>
